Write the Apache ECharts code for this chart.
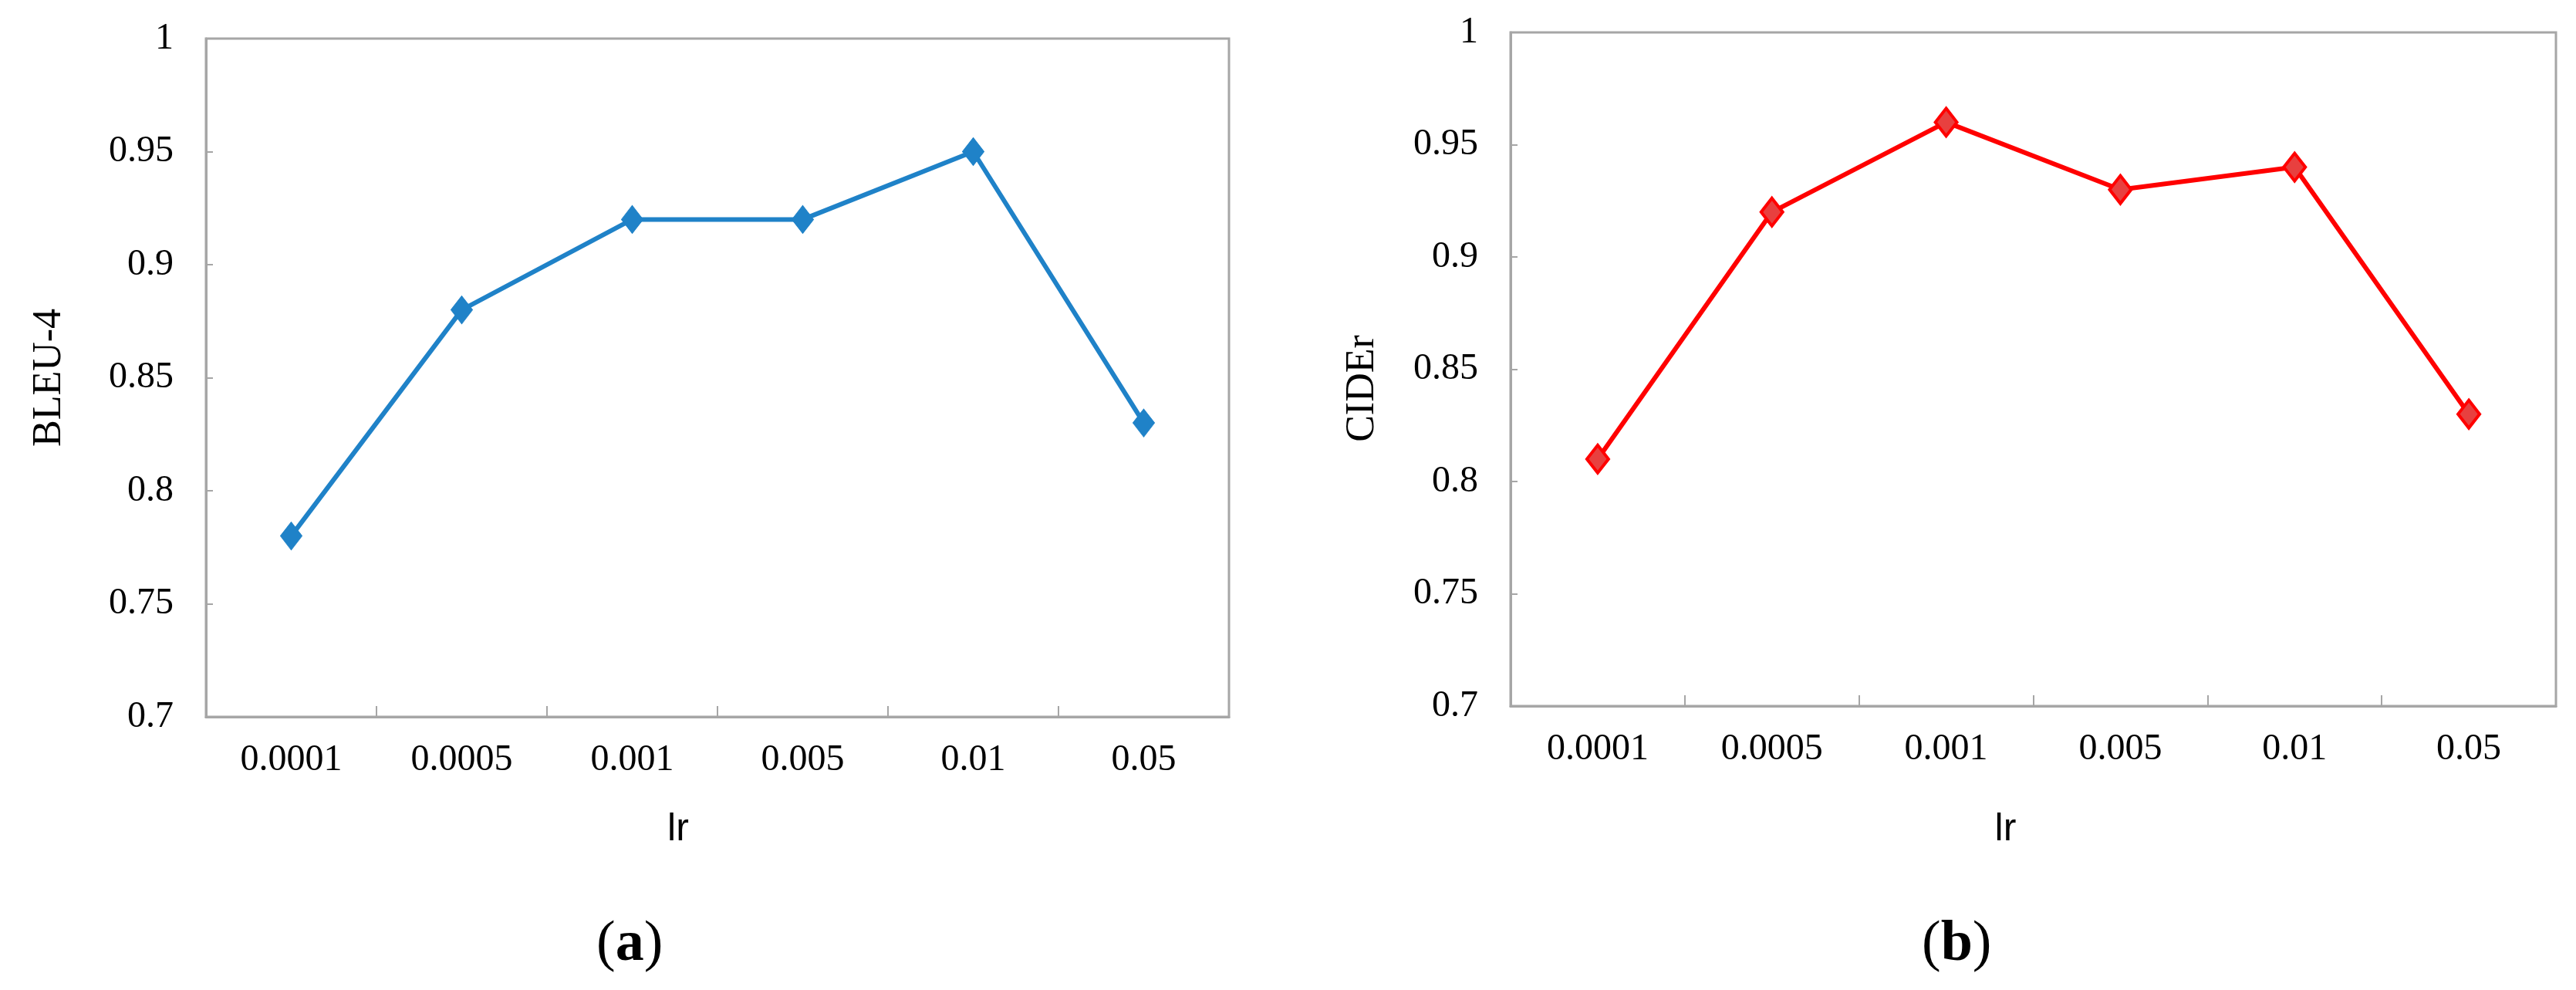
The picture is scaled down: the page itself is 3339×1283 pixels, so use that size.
<!DOCTYPE html>
<html>
<head>
<meta charset="utf-8">
<script src="https://cdn.jsdelivr.net/npm/echarts@6/dist/echarts.min.js"></script>
<style>
html,body{margin:0;padding:0;background:#fff;}
#c{width:3339px;height:1283px;}
</style>
</head>
<body>
<div id="c"></div>
<script>
const categories = ['0.0001', '0.0005', '0.001', '0.005', '0.01', '0.05'];
const bleu4 = [0.78, 0.88, 0.92, 0.92, 0.95, 0.83];
const cider = [0.81, 0.92, 0.96, 0.93, 0.94, 0.83];
const yTicks = { min: 0.7, max: 1, interval: 0.05 };

const serif = '"Liberation Serif", "Times New Roman", serif';
const sans = '"Liberation Sans", Arial, sans-serif';
const axisGray = '#a6a6a6';

function xAxisFor(idx, nameGap, shift) {
  return {
    type: 'category', gridIndex: idx, data: categories,
    axisLine: { lineStyle: { color: axisGray, width: 3 } },
    axisTick: { show: true, inside: true, length: 14, lineStyle: { color: axisGray, width: 2 } },
    axisLabel: { color: '#000', fontFamily: serif, fontSize: 48, margin: 32 },
    splitLine: { show: false },
    name: 'lr', nameLocation: 'middle', nameGap: nameGap,
    nameTextStyle: { color: '#000', fontFamily: sans, fontSize: 50, padding: [0, shift, 0, 0] }
  };
}
function yAxisFor(idx, name, nameGap, pad) {
  return {
    type: 'value', gridIndex: idx, min: yTicks.min, max: yTicks.max, interval: yTicks.interval,
    axisLine: { show: true, lineStyle: { color: axisGray, width: 3 } },
    axisTick: { show: true, inside: true, length: 9, lineStyle: { color: axisGray, width: 2 } },
    axisLabel: { color: '#000', fontFamily: serif, fontSize: 48, margin: 42 },
    splitLine: { show: false },
    name: name, nameLocation: 'middle', nameGap: nameGap,
    nameTextStyle: { color: '#000', fontFamily: serif, fontSize: 52, padding: pad }
  };
}

const chart = echarts.init(document.getElementById('c'), null, { renderer: 'canvas' });
chart.setOption({
  backgroundColor: '#fff',
  animation: false,
  grid: [
    { left: 267, top: 50, width: 1326, height: 879, show: true, borderColor: axisGray, borderWidth: 3, backgroundColor: 'transparent' },
    { left: 1958, top: 42, width: 1355, height: 873, show: true, borderColor: axisGray, borderWidth: 3, backgroundColor: 'transparent' }
  ],
  xAxis: [xAxisFor(0, 121, 102), xAxisFor(1, 135, 72)],
  yAxis: [yAxisFor(0, 'BLEU-4', 177, [0, 0, 0, 0]), yAxisFor(1, 'CIDEr', 166, [0, 50, 0, 0])],
  series: [
    {
      type: 'line', xAxisIndex: 0, yAxisIndex: 0, data: bleu4,
      symbol: 'diamond', symbolSize: [28, 36],
      lineStyle: { color: '#1f82c8', width: 6 },
      itemStyle: { color: '#1f82c8', borderColor: '#1f82c8', borderWidth: 1 }
    },
    {
      type: 'line', xAxisIndex: 1, yAxisIndex: 1, data: cider,
      symbol: 'diamond', symbolSize: [28, 36],
      lineStyle: { color: '#ff0000', width: 6 },
      itemStyle: { color: '#e8403f', borderColor: '#ff0000', borderWidth: 4 }
    }
  ],
  graphic: [
    {
      type: 'text', left: 817 - 44, top: 1232 - 44,
      style: {
        text: '{p|(}{b|a}{p|)}',
        rich: {
          p: { fontFamily: serif, fontSize: 74, fill: '#000' },
          b: { fontFamily: serif, fontSize: 74, fontWeight: 'bold', fill: '#000' }
        }
      }
    },
    {
      type: 'text', left: 2537 - 46, top: 1232 - 44,
      style: {
        text: '{p|(}{b|b}{p|)}',
        rich: {
          p: { fontFamily: serif, fontSize: 74, fill: '#000' },
          b: { fontFamily: serif, fontSize: 74, fontWeight: 'bold', fill: '#000' }
        }
      }
    }
  ]
});
</script>
</body>
</html>
